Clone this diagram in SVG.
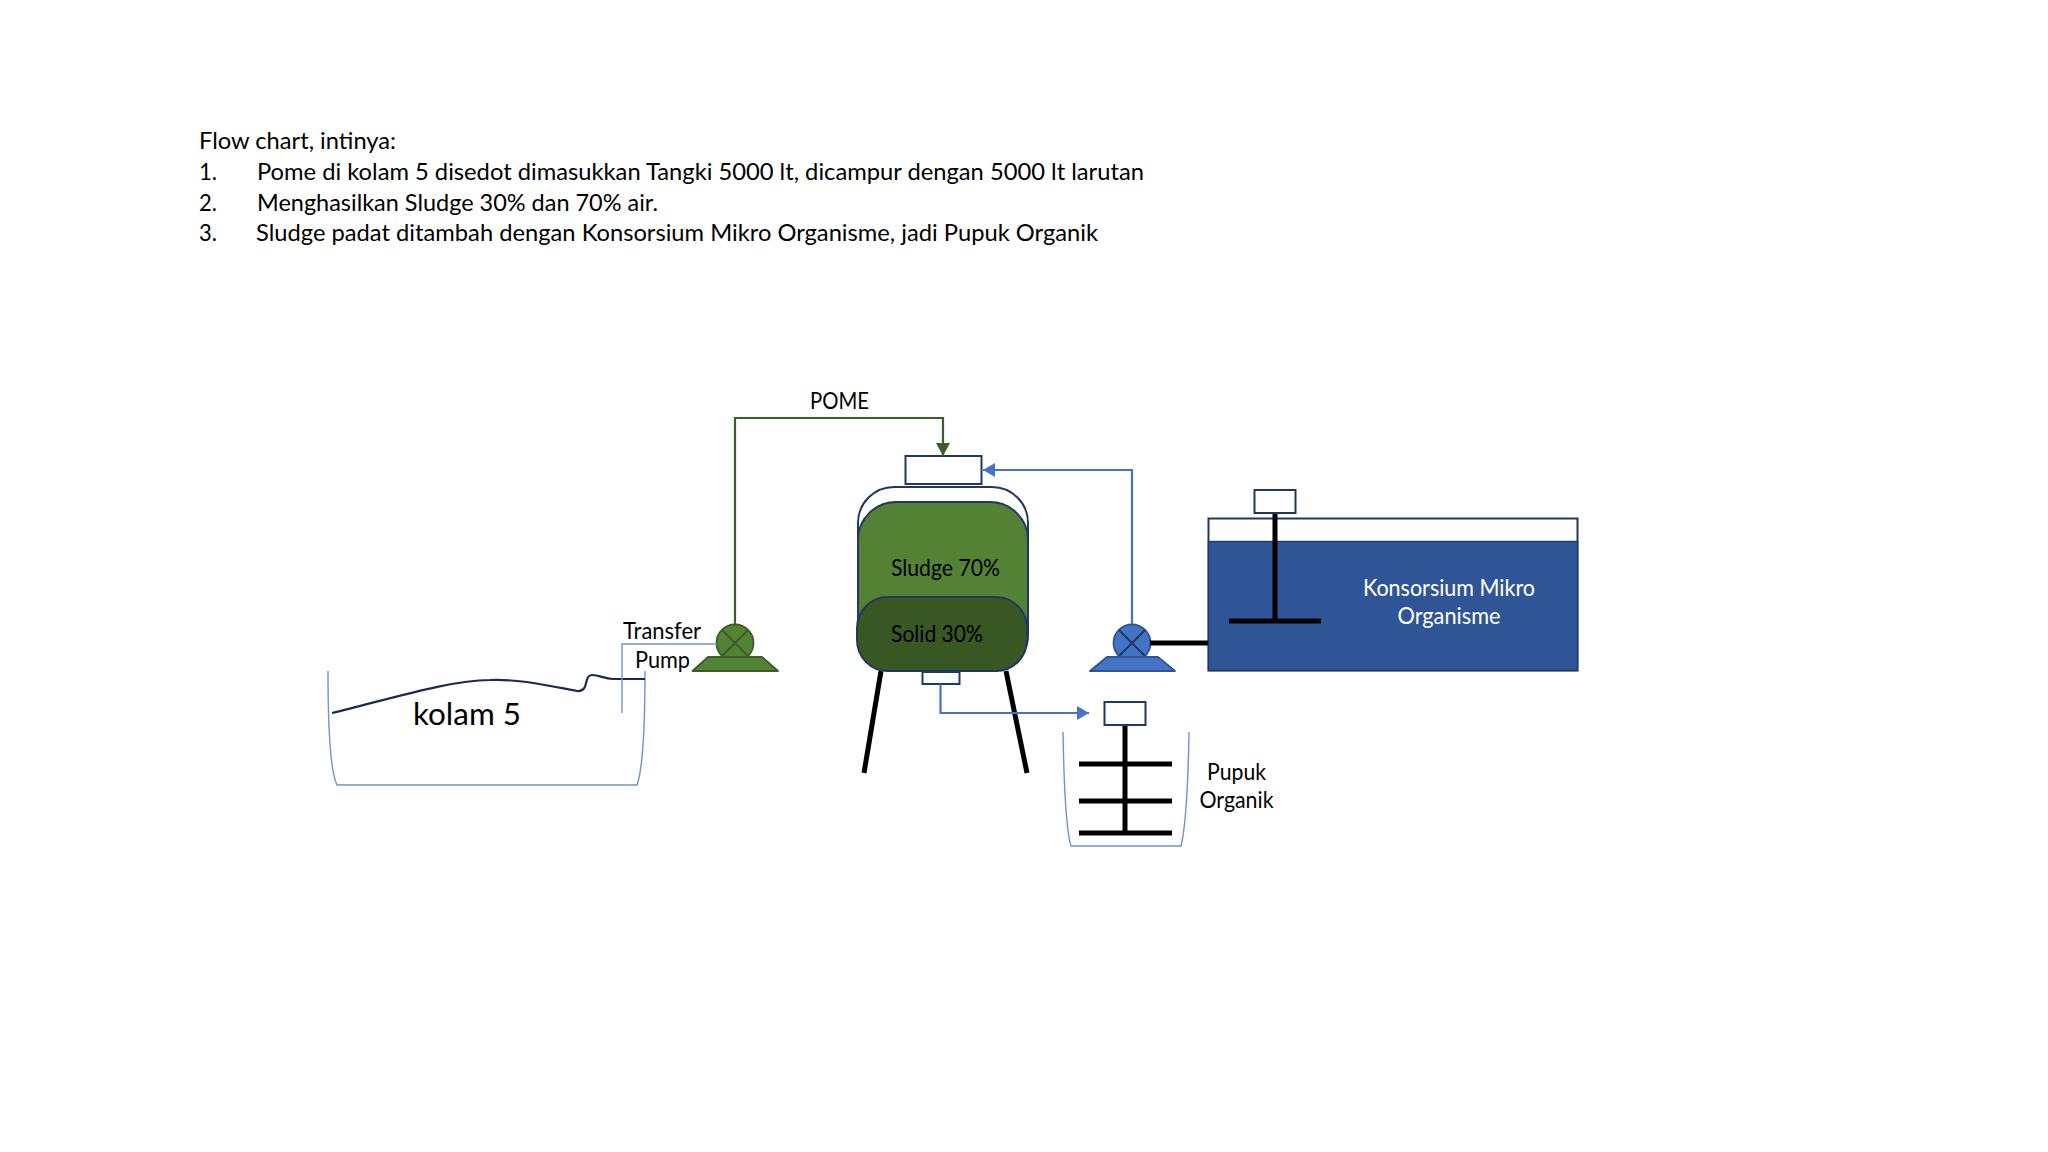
<svg xmlns="http://www.w3.org/2000/svg" width="2048" height="1152" viewBox="0 0 2048 1152">
<style>
text{font-family:"Lato","Open Sans","Liberation Sans",sans-serif;fill:#000;font-size:22.5px}
.c{text-anchor:middle}
.w{fill:#fff}
.box{fill:#fff;stroke:#1f3864;stroke-width:2}
.ves{fill:none;stroke:#7392cc;stroke-width:1.4}
.bar{fill:none;stroke:#000;stroke-width:5}
.g{fill:#548235;stroke:#3a5e25;stroke-width:1.8;stroke-linejoin:round}
.b{fill:#4472c4;stroke:#2f5597;stroke-width:1.8;stroke-linejoin:round}
.gl{fill:none;stroke:#3b5f24;stroke-width:2.2}
.bl{fill:none;stroke:#4472c4;stroke-width:2.2}
</style>
<defs>
<marker id="ag" markerUnits="userSpaceOnUse" markerWidth="14" markerHeight="16" refX="13" refY="8" orient="auto"><path d="M0 1 L13 8 L0 15Z" fill="#3b5f24"/></marker>
<marker id="ab" markerUnits="userSpaceOnUse" markerWidth="14" markerHeight="16" refX="12" refY="8" orient="auto"><path d="M0 1 L12 8 L0 15Z" fill="#4472c4"/></marker>
</defs>
<rect width="2048" height="1152" fill="#fff"/>
<g id="heading">
<text x="199" y="149" textLength="197" lengthAdjust="spacingAndGlyphs">Flow chart, intinya:</text>
<text x="199" y="180" textLength="18" lengthAdjust="spacingAndGlyphs">1.</text>
<text x="257" y="180" textLength="887" lengthAdjust="spacingAndGlyphs">Pome di kolam 5 disedot dimasukkan Tangki 5000 lt, dicampur dengan 5000 lt larutan</text>
<text x="199" y="211" textLength="18" lengthAdjust="spacingAndGlyphs">2.</text>
<text x="257" y="211" textLength="401" lengthAdjust="spacingAndGlyphs">Menghasilkan Sludge 30% dan 70% air.</text>
<text x="199" y="241" textLength="18" lengthAdjust="spacingAndGlyphs">3.</text>
<text x="256" y="241" textLength="842" lengthAdjust="spacingAndGlyphs">Sludge padat ditambah dengan Konsorsium Mikro Organisme, jadi Pupuk Organik</text>
</g>
<g id="kolam5">
<path class="ves" d="M328 671 C328 730 330 771 337 785 H637 C642 771 645 730 645 671"/>
<path d="M332 713 C390 699 450 680 490 680 C520 679 545 685 577 691 C590 692 583 675 592 675 C600 675 604 679 613 679 H645" fill="none" stroke="#1a2b50" stroke-width="2.2"/>
<text x="413" y="725" style="font-size:31px" textLength="108" lengthAdjust="spacingAndGlyphs">kolam 5</text>
</g>
<g id="transfer-pump">
<text x="623" y="639" textLength="78" lengthAdjust="spacingAndGlyphs">Transfer</text>
<text x="635" y="668" textLength="55" lengthAdjust="spacingAndGlyphs">Pump</text>
<circle class="g" cx="735" cy="643" r="18.5"/>
<path d="M722 630 L748 656 M748 630 L722 656" stroke="#3a5e25" stroke-width="2"/>
<path class="g" d="M692.5 671 L708 657 H762 L778 671Z"/>
</g>
<g id="tank">
<path class="bar" d="M881 671 L864 773 M1006 671 L1027 773"/>
<rect class="box" x="858" y="487" width="170" height="184" rx="36"/>
<rect x="858" y="502" width="170" height="169" rx="38" fill="#548235" stroke="#1f3864" stroke-width="2"/>
<rect x="857" y="597" width="170" height="74" rx="31" fill="#385723" stroke="#1f3864" stroke-width="2"/>
<text x="891" y="576" textLength="109" lengthAdjust="spacingAndGlyphs">Sludge 70%</text>
<text x="891" y="642" textLength="92" lengthAdjust="spacingAndGlyphs">Solid 30%</text>
<rect class="box" x="905.5" y="456" width="76" height="28"/>
<rect class="box" x="922.5" y="672" width="37" height="12"/>
</g>
<g id="dosing-pump">
<circle class="b" cx="1132" cy="643" r="18.5"/>
<path d="M1119 630 L1145 656 M1145 630 L1119 656" stroke="#1f3864" stroke-width="2"/>
<path class="b" d="M1090 671 L1107 657 H1158 L1175 671Z"/>
</g>
<g id="konsorsium-tank">
<rect x="1208.5" y="518.5" width="369" height="152" fill="#fff" stroke="#1f3864" stroke-width="2"/>
<rect x="1208.5" y="541.5" width="369" height="129" fill="#2f5597" stroke="#1f3864" stroke-width="1.4"/>
<path class="bar" d="M1275 513 V621 M1229 621 H1321"/>
<rect class="box" x="1254.5" y="490" width="41" height="23"/>
<text class="c w" x="1449" y="596" textLength="172" lengthAdjust="spacingAndGlyphs">Konsorsium Mikro</text>
<text class="c w" x="1449" y="624" textLength="103" lengthAdjust="spacingAndGlyphs">Organisme</text>
</g>
<g id="pupuk-organik">
<path class="ves" d="M1063 732 C1064 790 1066 830 1071 846 H1181 C1185 830 1188 790 1189 732"/>
<path class="bar" d="M1125 725 V833 M1079 764 H1172 M1079 801 H1172 M1079 833 H1172"/>
<rect class="box" x="1104.5" y="702" width="41" height="23"/>
<text class="c" x="1236.5" y="780" textLength="59" lengthAdjust="spacingAndGlyphs">Pupuk</text>
<text class="c" x="1236.5" y="808" textLength="74" lengthAdjust="spacingAndGlyphs">Organik</text>
</g>
<g id="connectors">
<path class="ves" d="M622 713 V644 H717"/>
<path class="gl" d="M735 624 V418 H943 V456" marker-end="url(#ag)"/>
<path class="bl" d="M1132 624 V470 H983" marker-end="url(#ab)"/>
<path class="bl" d="M940.5 684 V713 H1089" marker-end="url(#ab)"/>
<path d="M1150 643 H1208" stroke="#000" stroke-width="5"/>
</g>
<g id="pome-label"><text x="810" y="409" textLength="59" lengthAdjust="spacingAndGlyphs">POME</text></g>
</svg>
